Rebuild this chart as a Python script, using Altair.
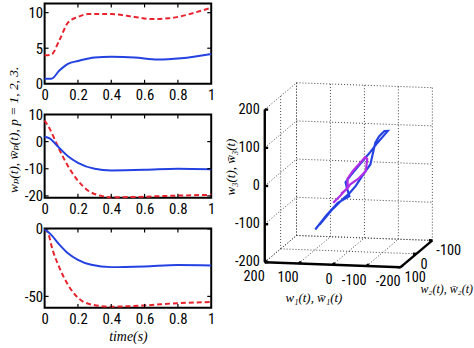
import altair as alt
import pandas as pd

BLUE = "#2442e2"
RED = "#e8232d"
MAGENTA = "#b22ee6"
LBL_FONT = "Liberation Sans Narrow, Roboto Condensed, Arial Narrow, Liberation Sans, sans-serif"
MATH_FONT = "Liberation Serif, DejaVu Serif, serif"

# ---------------- left panels: data ----------------
X_TICKS = [0, 0.2, 0.4, 0.6, 0.8, 1]

t1_blue = [0, 0.04, 0.09, 0.14, 0.2, 0.3, 0.4, 0.54, 0.68, 0.82, 1.0]
w1_blue = [0.7, 0.7, 1.9, 2.8, 3.2, 3.7, 3.8, 3.7, 3.4, 3.6, 4.2]
t1_red = [0, 0.04, 0.09, 0.14, 0.2, 0.26, 0.4, 0.54, 0.64, 0.74, 0.82, 0.9, 1.0]
w1_red = [4.0, 4.1, 6.2, 8.6, 9.4, 9.8, 9.8, 9.4, 9.1, 9.2, 9.5, 10.0, 10.7]
y1_ticks = [0, 5, 10]
y1_dom = [0, 11.3]

t2_blue = [0, 0.03, 0.08, 0.14, 0.2, 0.3, 0.4, 0.6, 0.8, 1.0]
w2_blue = [1.8, 1.2, -1.8, -5.4, -7.8, -10.0, -10.6, -10.4, -10.0, -10.2]
t2_red = [0, 0.03, 0.08, 0.14, 0.2, 0.26, 0.34, 0.4, 0.54, 0.74, 1.0]
w2_red = [7.8, 4.8, -1.8, -9.0, -14.4, -18.0, -20.0, -20.5, -20.4, -20.0, -19.6]
y2_ticks = [-20, -10, 0, 10]
y2_dom = [-20.7, 10]

t3_blue = [0, 0.04, 0.09, 0.14, 0.2, 0.28, 0.4, 0.6, 0.8, 1.0]
w3_blue = [0, -4.4, -11.8, -18.0, -22.9, -26.6, -28.3, -27.8, -26.8, -27.1]
t3_red = [0, 0.025, 0.04, 0.09, 0.14, 0.2, 0.28, 0.4, 0.6, 0.8, 1.0]
w3_red = [0, -4.4, -12.0, -29.0, -41.4, -51.0, -56.0, -57.6, -56.7, -55.0, -54.2]
y3_ticks = [-50, 0]
y3_dom = [-58.5, 0.3]

# ---------------- 3-D panel: data ----------------
W1_TICKS = [200, 100, 0, -100, -200]
W2_TICKS = [100, 0, -100]
W3_TICKS = [-200, -100, 0, 100, 200]
W1_LIM = (-200, 200)
W2_LIM = (-100, 100)
W3_LIM = (-200, 200)

blue_w1 = [98, 63, 28, -7, 1, 7, -7, -31, -60, -80, -98, -110, -101, -86, -77, -69, -66, -48, -25, -4, 13, 51, 86]
blue_w2 = [0, 4, 8, 10, 8, 4, 0, -4, -8, -10, -12, -12, -10, -8, -4, 0, 4, 8, 8, 4, 0, -2, -2]
blue_w3 = [-146, -106, -71, -52, -31, -18, 0, 27, 59, 83, 102, 115, 115, 101, 86, 49, 31, 7, -25, -47, -60, -95, -133]

mag_w1 = [45, 22, 1, 1, -13, -31, -48, -54, -51, -31, -7, 4, 22]
mag_w2 = [0, 2, 4, 4, 2, 0, -2, -2, 0, 2, 4, 2, 0]
mag_w3 = [-74, -53, -31, -8, 11, 30, 48, 43, 12, -7, -23, -36, -50]

PW = 168  # left panel width


def left_panel(tb, vb, tr, vr, dom, yticks, h, xtitle=None, ytitle=None):
    dfb = pd.DataFrame({"t": tb, "v": vb})
    dfr = pd.DataFrame({"t": tr, "v": vr})
    xs = alt.Scale(domain=[0, 1], nice=False, zero=False)
    ys = alt.Scale(domain=dom, nice=False, zero=False)
    common = dict(ticks=False, domain=False, grid=False, labelFont=LBL_FONT, tickCount=20,
                  labelFontSize=15, labelColor="black", labelFlush=False, labelOverlap=False)
    if xtitle:
        xaxis = alt.Axis(values=X_TICKS, labelExpr="'' + datum.value", labelPadding=4,
                         titleFont=MATH_FONT, titleFontStyle="italic", titleFontWeight="normal",
                         titleFontSize=14, titlePadding=3, titleColor="black", **common)
    else:
        xaxis = alt.Axis(values=X_TICKS, labelExpr="'' + datum.value", labelPadding=4, **common)
    if ytitle:
        yaxis = alt.Axis(values=yticks, labelExpr="'' + datum.value", labelPadding=2,
                         titleFont=MATH_FONT, titleFontStyle="italic", titleFontWeight="normal",
                         titleFontSize=13.5, titleAngle=270, titleX=-38, titleY=15,
                         titleBaseline="top", titleAlign="center", titleColor="black", **common)
    else:
        yaxis = alt.Axis(values=yticks, labelExpr="'' + datum.value", labelPadding=2, **common)

    blue = alt.Chart(dfb).mark_line(color=BLUE, strokeWidth=2, interpolate="monotone").encode(
        x=alt.X("t:Q", scale=xs, axis=xaxis, title=xtitle if xtitle else None),
        y=alt.Y("v:Q", scale=ys, axis=yaxis, title=ytitle if ytitle else None),
    )
    red = alt.Chart(dfr).mark_line(color=RED, strokeWidth=2, strokeDash=[5, 3],
                                   interpolate="monotone").encode(x="t:Q", y="v:Q")

    xin = pd.DataFrame({"t": [v for v in X_TICKS if 0 < v < 1]})
    yin = pd.DataFrame({"v": [v for v in yticks if dom[0] < v < dom[1]]})
    tk = dict(color="black", strokeWidth=1.2)
    top_t = alt.Chart(xin).mark_rule(**tk).encode(x="t:Q", y=alt.value(0), y2=alt.value(4))
    bot_t = alt.Chart(xin).mark_rule(**tk).encode(x="t:Q", y=alt.value(h), y2=alt.value(h - 4))
    lef_t = alt.Chart(yin).mark_rule(**tk).encode(y="v:Q", x=alt.value(0), x2=alt.value(4))
    rig_t = alt.Chart(yin).mark_rule(**tk).encode(y="v:Q", x=alt.value(PW), x2=alt.value(PW - 4))

    return alt.layer(red, blue, top_t, bot_t, lef_t, rig_t).properties(
        width=PW, height=h,
        view=alt.ViewBackground(stroke="black", strokeWidth=2),
    )


p1 = left_panel(t1_blue, w1_blue, t1_red, w1_red, y1_dom, y1_ticks, 81)
p2 = left_panel(t2_blue, w2_blue, t2_red, w2_red, y2_dom, y2_ticks, 84,
                ytitle="wₚ(t), w̄ₚ(t), p = 1, 2, 3.")
p3 = left_panel(t3_blue, w3_blue, t3_red, w3_red, y3_dom, y3_ticks, 80, xtitle="time(s)")

# ---------------- 3-D panel ----------------
# view projection: screen pixels per data unit along each 3-D axis
K1U, K1V = 0.3425, -0.0125
K2U, K2V = 0.16, 0.135
K3V = 0.385


def pu(a, b):
    return f"{K1U}*({W1_LIM[1]}-datum.{a}) + {K2U}*({W2_LIM[1]}-datum.{b})"


def pv(a, b, c):
    return (f"{K3V}*(datum.{c}-({W3_LIM[0]})) + {K1V}*({W1_LIM[1]}-datum.{a})"
            f" + {K2V}*({W2_LIM[1]}-datum.{b})")


xs3 = alt.Scale(domain=[0, 170], nice=False, zero=False)
ys3 = alt.Scale(domain=[-5, 261], nice=False, zero=False)

# grid segments on the three back planes
grid_rows = []
for a in W1_TICKS:
    grid_rows.append((a, W2_LIM[0], W3_LIM[0], a, W2_LIM[0], W3_LIM[1]))
    grid_rows.append((a, W2_LIM[1], W3_LIM[0], a, W2_LIM[0], W3_LIM[0]))
for c in W3_TICKS:
    grid_rows.append((W1_LIM[1], W2_LIM[0], c, W1_LIM[0], W2_LIM[0], c))
    grid_rows.append((W1_LIM[1], W2_LIM[1], c, W1_LIM[1], W2_LIM[0], c))
for b in W2_TICKS:
    grid_rows.append((W1_LIM[1], b, W3_LIM[0], W1_LIM[1], b, W3_LIM[1]))
    grid_rows.append((W1_LIM[1], b, W3_LIM[0], W1_LIM[0], b, W3_LIM[0]))
grid_df = pd.DataFrame(grid_rows, columns=["a1", "b1", "c1", "a2", "b2", "c2"])

axis_rows = [
    (W1_LIM[1], W2_LIM[1], W3_LIM[0], W1_LIM[1], W2_LIM[1], W3_LIM[1]),
    (W1_LIM[1], W2_LIM[1], W3_LIM[0], W1_LIM[0], W2_LIM[1], W3_LIM[0]),
    (W1_LIM[0], W2_LIM[1], W3_LIM[0], W1_LIM[0], W2_LIM[0], W3_LIM[0]),
]
for c in W3_TICKS:
    axis_rows.append((W1_LIM[1], W2_LIM[1], c, W1_LIM[1] - 10, W2_LIM[1], c))
for a in W1_TICKS:
    axis_rows.append((a, W2_LIM[1], W3_LIM[0], a, W2_LIM[1] - 14, W3_LIM[0]))
for b in W2_TICKS:
    axis_rows.append((W1_LIM[0], b, W3_LIM[0], W1_LIM[0] + 10, b, W3_LIM[0]))
axis_df = pd.DataFrame(axis_rows, columns=["a1", "b1", "c1", "a2", "b2", "c2"])


def seg_layer(df, **mk):
    return alt.Chart(df).mark_rule(**mk).transform_calculate(
        u1=pu("a1", "b1"), v1=pv("a1", "b1", "c1"),
        u2=pu("a2", "b2"), v2=pv("a2", "b2", "c2"),
    ).encode(
        x=alt.X("u1:Q", scale=xs3, axis=None), y=alt.Y("v1:Q", scale=ys3, axis=None),
        x2="u2:Q", y2="v2:Q",
    )


def path_layer(w1, w2, w3, color):
    df = pd.DataFrame({"i": list(range(len(w1))), "a": w1, "b": w2, "c": w3})
    return alt.Chart(df).mark_line(color=color, strokeWidth=2.2).transform_calculate(
        u=pu("a", "b"), v=pv("a", "b", "c"),
    ).encode(
        x=alt.X("u:Q", scale=xs3, axis=None), y=alt.Y("v:Q", scale=ys3, axis=None),
        order=alt.Order("i:Q"),
    )


def text_layer(df, **mk):
    return alt.Chart(df).mark_text(**mk).transform_calculate(
        u=pu("a", "b"), v=pv("a", "b", "c"),
    ).encode(
        x=alt.X("u:Q", scale=xs3, axis=None), y=alt.Y("v:Q", scale=ys3, axis=None),
        text="lab:N",
    )


z_lab = pd.DataFrame({"a": W1_LIM[1], "b": W2_LIM[1], "c": W3_TICKS, "lab": [str(v) for v in W3_TICKS]})
x_lab = pd.DataFrame({"a": W1_TICKS, "b": W2_LIM[1], "c": W3_LIM[0], "lab": [str(v) for v in W1_TICKS]})
y_lab = pd.DataFrame({"a": W1_LIM[0], "b": W2_TICKS, "c": W3_LIM[0], "lab": [str(v) for v in W2_TICKS]})
x_tit = pd.DataFrame({"a": [0], "b": [W2_LIM[1]], "c": [W3_LIM[0]], "lab": ["w₁(t), w̄₁(t)"]})
y_tit = pd.DataFrame({"a": [W1_LIM[0]], "b": [0], "c": [W3_LIM[0]], "lab": ["w₂(t), w̄₂(t)"]})
z_tit = pd.DataFrame({"a": [W1_LIM[1]], "b": [W2_LIM[1]], "c": [0], "lab": ["w₃(t), w̄₃(t)"]})

lab_kw = dict(font=LBL_FONT, fontSize=14.5, color="black", baseline="middle")
tit_kw = dict(font=MATH_FONT, fontStyle="italic", fontSize=13, color="black", baseline="middle")

p3d = alt.layer(
    seg_layer(grid_df, color="#444444", strokeWidth=1, strokeDash=[1, 2]),
    path_layer(blue_w1, blue_w2, blue_w3, BLUE),
    path_layer(mag_w1, mag_w2, mag_w3, MAGENTA),
    seg_layer(axis_df, color="black", strokeWidth=2.4),
    text_layer(z_lab, align="right", dx=-5, **lab_kw),
    text_layer(x_lab, align="right", dx=0, dy=15, **lab_kw),
    text_layer(y_lab, align="left", dx=4, dy=11, **lab_kw),
    text_layer(x_tit, align="center", dx=-19, dy=34, **tit_kw),
    text_layer(y_tit, align="left", dx=4, dy=36, font=MATH_FONT, fontStyle="italic",
               fontSize=12, color="black", baseline="middle"),
    text_layer(z_tit, align="center", angle=270, dx=19, dy=-34, **tit_kw),
).properties(width=170, height=266, view=alt.ViewBackground(stroke="transparent"))

left = alt.vconcat(p1, p2, p3, spacing=31, bounds="flush")
chart = alt.hconcat(left, p3d, spacing=8).properties(
    padding={"left": 5, "top": 0, "right": 0, "bottom": 0},
    background="white",
)

chart.save("out.html", embed_options={"renderer": "svg", "actions": False})
